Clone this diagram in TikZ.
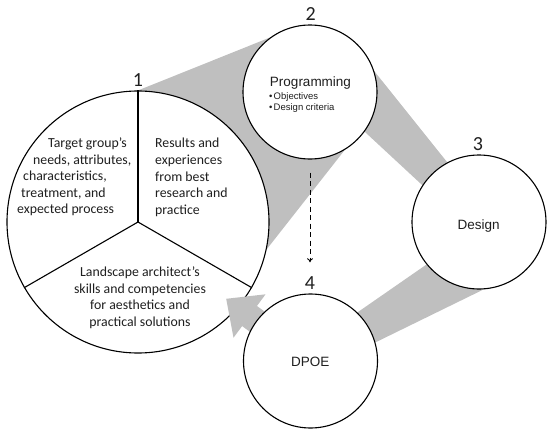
\documentclass[tikz,border=0pt]{standalone}
\usepackage{fontspec}
\setmainfont{Carlito}
\newfontfamily\arialf{Liberation Sans}
\usetikzlibrary{calc,arrows.meta}
\pgfdeclarelayer{back}
\pgfdeclarelayer{mid}
\pgfdeclarelayer{front}
\pgfsetlayers{back,main,mid,front}
\definecolor{bandgray}{gray}{0.75}
\definecolor{ink}{gray}{0.12}
\begin{document}
\begin{tikzpicture}[x=1pt,y=-1pt,
  ring/.style={circle,draw=black,fill=white,line width=1.1pt,inner sep=0pt},
  divider/.style={draw=black,line width=1.1pt},
  num/.style={font=\fontsize{20}{24}\selectfont,text=ink,inner sep=0pt,anchor=base},
  sector/.style={font=\fontsize{13.8}{16.7}\selectfont,text=ink,inner sep=0pt},
  sectorline/.style={font=\fontsize{13.8}{16.7}\selectfont,text=ink,inner sep=0pt,anchor=base west},
  title/.style={font=\arialf\fontsize{13.5}{16}\selectfont,text=ink,inner sep=0pt,anchor=base},
  bulletline/.style={font=\arialf\fontsize{9.5}{11.5}\selectfont,text=ink,inner sep=0pt,anchor=base west},
  bandfill/.style={fill=bandgray,draw=none},
  dasharrow/.style={draw=black,line width=0.9pt,dash pattern=on 5pt off 3.5pt,-{To[length=4pt,width=6pt]}}
]
\useasboundingbox (0,0) rectangle (550,434);

% circles
\node[ring,minimum size=262pt] (c1) at (138,222) {};
\node[ring,minimum size=134pt] (prog) at (310,92) {};
\node[ring,minimum size=134pt] (design) at (479,222) {};
\begin{pgfonlayer}{front}
\node[ring,minimum size=134pt] (dpoe) at (310.5,361) {};
\node[title] (dpoetext) at (310.3,366.7) {DPOE};
\end{pgfonlayer}

% sector dividers
\draw[divider] (c1.center) -- (c1.90);
\draw[divider] (c1.center) -- (c1.210);
\draw[divider] (c1.center) -- (c1.330);

% number labels
\node[num] (n1) at (138,86) {1};
\node[num] (n2) at (310.7,20.7) {2};
\node[num] (n3) at (478,150.7) {3};
\node[num] (n4) at (310,289.3) {4};

% sector texts
\node[sectorline] (t1a) at (48,147.5) {Target group’s};
\node[sectorline] (t1b) at (33,164.1) {needs, attributes,};
\node[sectorline] (t1c) at (23,180.7) {characteristics,};
\node[sectorline] (t1d) at (21,197.3) {treatment, and};
\node[sectorline] (t1e) at (17,213.9) {expected process};
\node[sector,anchor=north west,align=left] (t2) at (155,137.9)
  {Results and\\experiences\\from best\\research and\\practice};
\node[sector,anchor=north,align=center] (t3) at (140,266.4)
  {Landscape architect’s\\skills and competencies\\for aesthetics and\\practical solutions};

% circle titles
\node[title] (progtext) at (310.5,86) {Programming};
\node[bulletline] (b1) at (269,99) {\textbullet\hspace{1.2pt}Objectives};
\node[bulletline] (b2) at (269,110.7) {\textbullet\hspace{1.2pt}Design criteria};
\node[title] (designtext) at (478.7,229.3) {Design};

% gray bands
\begin{pgfonlayer}{back}
\fill[bandfill] (c1.90) -- (prog.126.5) -- (prog.center) -- (prog.-59) -- (c1.-12) -- (c1.center) -- cycle;
\fill[bandfill] (prog.18.7) -- (design.118) -- (design.center) -- (design.147) -- (prog.-36) -- (prog.center) -- cycle;
\fill[bandfill] (design.-86.6) -- (design.center) -- (design.-141) -- (dpoe.46) -- (dpoe.center) -- (dpoe.16) -- cycle;
\end{pgfonlayer}

% fat arrow from DPOE back to circle 1
\coordinate (tip) at (226.2,298.8);
\coordinate (m) at ($(tip)!29pt!(dpoe.center)$);
\begin{pgfonlayer}{mid}
\fill[bandfill] (tip) -- ($(m)!27pt!90:(dpoe.center)$) -- ($(m)!12.5pt!90:(dpoe.center)$)
  -- ($(dpoe.center)!12.5pt!-90:(m)$) -- ($(dpoe.center)!12.5pt!90:(m)$)
  -- ($(m)!12.5pt!-90:(dpoe.center)$) -- ($(m)!27pt!-90:(dpoe.center)$) -- cycle;
\end{pgfonlayer}

% dashed arrow
\draw[dasharrow,shorten <=13pt,shorten >=14pt] (prog.south) -- (n4.north);
\end{tikzpicture}
\end{document}
